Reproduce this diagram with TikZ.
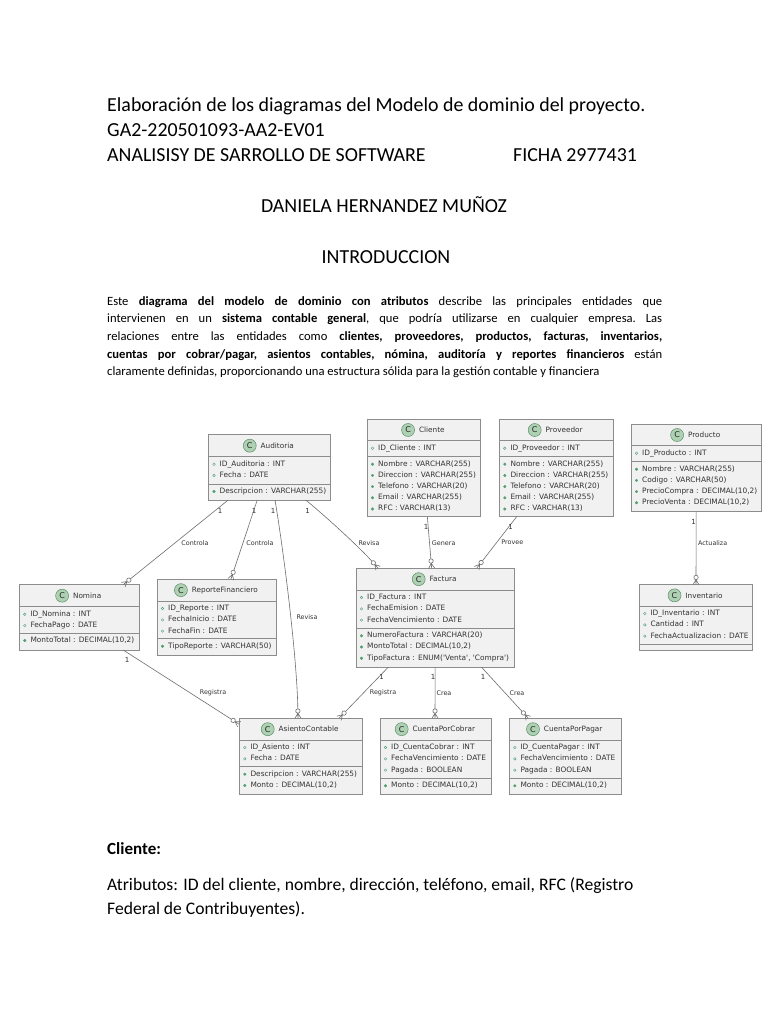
\documentclass[tikz,border=0pt]{standalone}
\usepackage{fontspec}
\setmainfont{Carlito}
\newfontfamily\umlfont{DejaVu Sans}
\usetikzlibrary{arrows.meta,positioning}
\definecolor{BoxFill}{HTML}{F1F1F1}
\definecolor{BoxLine}{HTML}{8C8C8C}
\definecolor{RelLine}{HTML}{6E6E6E}
\definecolor{IconFill}{HTML}{ADD1B2}
\definecolor{IconLine}{HTML}{5F8F6A}
\definecolor{DotGreen}{HTML}{4F9F72}
\definecolor{UmlText}{HTML}{333333}

% crow's foot with a small circle in front of it
\pgfdeclarearrow{
  name=ZeroMany,
  setup code={
    \pgfarrowssettipend{0pt}
    \pgfarrowssetlineend{-9.5pt}
    \pgfarrowssetvisualbackend{-9.5pt}
    \pgfarrowssetbackend{-9.5pt}
    \pgfarrowshullpoint{0pt}{3pt}
    \pgfarrowshullpoint{0pt}{-3pt}
    \pgfarrowshullpoint{-9.5pt}{0pt}
  },
  drawing code={
    \pgfsetdash{}{0pt}
    \pgfpathmoveto{\pgfqpoint{-5pt}{0pt}}
    \pgfpathlineto{\pgfqpoint{0pt}{3pt}}
    \pgfpathmoveto{\pgfqpoint{-5pt}{0pt}}
    \pgfpathlineto{\pgfqpoint{0pt}{-3pt}}
    \pgfpathmoveto{\pgfqpoint{-5pt}{0pt}}
    \pgfpathlineto{\pgfqpoint{0pt}{0pt}}
    \pgfpathcircle{\pgfqpoint{-7.3pt}{0pt}}{2.2pt}
    \pgfusepathqstroke
  },
  parameters={x}
}

\tikzset{
  % class box
  entbox/.style={draw=BoxLine, fill=BoxFill, line width=0.8pt, inner sep=0pt,
                 outer sep=0pt, anchor=north west},
  % separator inside a class box
  entsep/.style={draw=BoxLine, line width=0.8pt},
  enttitle/.style={font=\umlfont\fontsize{7.3}{8}\selectfont, text=UmlText, inner sep=0pt},
  enticon/.style={circle, draw=IconLine, fill=IconFill, line width=0.5pt,
                  minimum size=13pt, inner sep=0pt, text=black!85,
                  font=\umlfont\fontsize{8}{8}\selectfont},
  entrow/.style={font=\umlfont\fontsize{7.4}{8}\selectfont, text=UmlText, anchor=west,
                 inner sep=0pt, text height=5.4pt, text depth=1.5pt},
  keydot/.style={circle, draw=DotGreen, line width=0.4pt, minimum size=2.6pt, inner sep=0pt},
  fielddot/.style={circle, draw=DotGreen, fill=DotGreen, line width=0.4pt,
                   minimum size=2.6pt, inner sep=0pt},
  % relation line and its labels
  rel/.style={draw=RelLine, line width=0.6pt, -{ZeroMany}},
  rellbl/.style={font=\umlfont\fontsize{6.4}{8}\selectfont, text=UmlText, inner sep=0pt},
  card/.style={font=\umlfont\fontsize{7}{8}\selectfont, text=UmlText, inner sep=0pt},
  % page text
  pagetxt/.style={anchor=base west, inner sep=0pt, text=black, font=\fontsize{19.9}{24}\selectfont},
  pagemid/.style={pagetxt, anchor=base},
}

% name, left, right, top, header bottom, separator, bottom, first rows, second rows
\newcommand{\entity}[9]{
  \pgfmathsetmacro{\entW}{#3-#2}
  \pgfmathsetmacro{\entH}{#7-#4}
  \node[entbox, minimum width=\entW pt, minimum height=\entH pt] (#1) at (#2,#4) {};
  \draw[entsep] (#2,#5) -- (#3,#5);
  \draw[entsep] (#2,#6) -- (#3,#6);
  \node[enttitle] (#1T) at ({(#2+#3)/2+8},{(#4+#5)/2}) {#1};
  \node[enticon, left=4pt of #1T] (#1C) {C};
  \foreach \rowtxt [count=\n] in {#8}{
    \node[keydot] at ({#2+5.5},{#5+1.9+(\n-0.5)*11.3}) {};
    \node[entrow] at ({#2+11},{#5+1.9+(\n-0.5)*11.3}) {\rowtxt};
  }
  \foreach \rowtxt [count=\n] in {#9}{
    \node[fielddot] at ({#2+5.5},{#6+1.9+(\n-0.5)*11.2}) {};
    \node[entrow] at ({#2+11},{#6+1.9+(\n-0.5)*11.2}) {\rowtxt};
  }
}

\begin{document}
\begin{tikzpicture}[x=1pt,y=-1pt]
\useasboundingbox (0,0) rectangle (768,1024);
\fill[white] (0,0) rectangle (768,1024);

%% ── Page heading ─────────────────────────────────────────────────────────
\node[pagetxt] (head1) at (107,112) {Elaboración de los diagramas del Modelo de dominio del proyecto.};
\node[pagetxt] (head2) at (107,137) {GA2-220501093-AA2-EV01};
\node[pagetxt] (head3) at (107,162) {ANALISISY DE SARROLLO DE SOFTWARE};
\node[pagetxt] (head4) at (513,162) {FICHA 2977431};
\node[pagemid] (author) at (384,213) {DANIELA HERNANDEZ MUÑOZ};
\node[pagemid] (intro) at (386,263) {INTRODUCCION};

%% ── Paragraph ────────────────────────────────────────────────────────────
\node[anchor=north west, inner sep=0pt, text width=555pt, align=justify,
      font=\frenchspacing\fontsize{12.6}{17.7}\selectfont] (para) at (107,296)
  {Este \textbf{diagrama del modelo de dominio con atributos} describe las principales entidades que\linebreak
   intervienen en un \textbf{sistema contable general}, que podría utilizarse en cualquier empresa. Las\linebreak
   relaciones entre las entidades como \textbf{clientes, proveedores, productos, facturas, inventarios,}\linebreak
   \textbf{cuentas por cobrar/pagar, asientos contables, nómina, auditoría y reportes financieros} están\linebreak
   claramente definidas, proporcionando una estructura sólida para la gestión contable y financiera};

%% ── Classes ──────────────────────────────────────────────────────────────
\entity{Auditoria}{208.5}{330}{434.7}{456.7}{484}{500}
  {ID\_Auditoria : INT,Fecha : DATE}
  {Descripcion : VARCHAR(255)}
\entity{Cliente}{367}{480.7}{419.3}{440.7}{456.7}{516.7}
  {ID\_Cliente : INT}
  {Nombre : VARCHAR(255),Direccion : VARCHAR(255),Telefono : VARCHAR(20),Email : VARCHAR(255),RFC : VARCHAR(13)}
\entity{Proveedor}{499.3}{613}{419.3}{440.7}{456.7}{516.7}
  {ID\_Proveedor : INT}
  {Nombre : VARCHAR(255),Direccion : VARCHAR(255),Telefono : VARCHAR(20),Email : VARCHAR(255),RFC : VARCHAR(13)}
\entity{Producto}{631}{761.3}{424.3}{445.7}{461.7}{511.7}
  {ID\_Producto : INT}
  {Nombre : VARCHAR(255),Codigo : VARCHAR(50),{PrecioCompra : DECIMAL(10,2)},{PrecioVenta : DECIMAL(10,2)}}
\entity{Nomina}{19.3}{139}{584.7}{606.7}{633}{650}
  {ID\_Nomina : INT,FechaPago : DATE}
  {{MontoTotal : DECIMAL(10,2)}}
\entity{ReporteFinanciero}{157}{276.7}{579.3}{601}{638.7}{655.7}
  {ID\_Reporte : INT,FechaInicio : DATE,FechaFin : DATE}
  {TipoReporte : VARCHAR(50)}
\entity{Factura}{356}{514.3}{568.3}{590}{628.3}{667.3}
  {ID\_Factura : INT,FechaEmision : DATE,FechaVencimiento : DATE}
  {NumeroFactura : VARCHAR(20),{MontoTotal : DECIMAL(10,2)},{TipoFactura : ENUM('Venta', 'Compra')}}
\entity{Inventario}{639.3}{752.7}{584.7}{606}{644.3}{650}
  {ID\_Inventario : INT,Cantidad : INT,FechaActualizacion : DATE}
  {}
\entity{AsientoContable}{239.3}{362}{718.3}{740}{766.7}{794}
  {ID\_Asiento : INT,Fecha : DATE}
  {Descripcion : VARCHAR(255),{Monto : DECIMAL(10,2)}}
\entity{CuentaPorCobrar}{380}{491.7}{718.3}{740}{778.3}{794}
  {ID\_CuentaCobrar : INT,FechaVencimiento : DATE,Pagada : BOOLEAN}
  {{Monto : DECIMAL(10,2)}}
\entity{CuentaPorPagar}{509.3}{621}{718.3}{740}{778.3}{794}
  {ID\_CuentaPagar : INT,FechaVencimiento : DATE,Pagada : BOOLEAN}
  {{Monto : DECIMAL(10,2)}}

%% ── Relations ────────────────────────────────────────────────────────────
\draw[rel] ([xshift=-41pt]Auditoria.south) -- ([xshift=44pt]Nomina.north);
\draw[rel] ([xshift=-12pt]Auditoria.south) -- ([xshift=14pt]ReporteFinanciero.north);
\draw[rel] ([xshift=5.75pt]Auditoria.south) .. controls (285,560) and (297,660) .. ([xshift=-2.65pt]AsientoContable.north);
\draw[rel] ([xshift=36.5pt]Auditoria.south) .. controls (330,520) and (362,550) .. ([xshift=-57pt]Factura.north);
\draw[rel] ([xshift=3.5pt]Cliente.south) -- ([xshift=-3.5pt]Factura.north);
\draw[rel] ([xshift=-39.5pt]Proveedor.south) -- ([xshift=41.5pt]Factura.north);
\draw[rel] (Producto.south) -- (Inventario.north);
\draw[rel] ([xshift=44pt]Nomina.south) -- ([yshift=-6pt]AsientoContable.north west);
\draw[rel] ([xshift=-47pt]Factura.south) -- ([xshift=38.35pt]AsientoContable.north);
\draw[rel] (Factura.south) -- ([xshift=-0.85pt]CuentaPorCobrar.north);
\draw[rel] ([xshift=46.5pt]Factura.south) -- ([xshift=-36.85pt]CuentaPorPagar.north);

%% ── Relation labels ──────────────────────────────────────────────────────
\node[rellbl] at (195,542.7) {Controla};
\node[rellbl] at (260,542.7) {Controla};
\node[rellbl] at (307,617) {Revisa};
\node[rellbl] at (369,542.7) {Revisa};
\node[rellbl] at (443.7,542.7) {Genera};
\node[rellbl] at (512.3,542.7) {Provee};
\node[rellbl] at (712.7,542.7) {Actualiza};
\node[rellbl] at (213,692.7) {Registra};
\node[rellbl] at (383,692.7) {Registra};
\node[rellbl] at (444,692.7) {Crea};
\node[rellbl] at (517,692.7) {Crea};

%% ── Cardinalities ────────────────────────────────────────────────────────
\foreach \cx/\cy in {220/510.7,254/510.7,273/510.7,307.7/510.7,426/527,510.7/527,693.7/522,
                     127/660,381.7/677,433/677,483/677}{
  \node[card] at (\cx,\cy) {1};
}

%% ── Text under the diagram ───────────────────────────────────────────────
\node[pagetxt, font=\bfseries\fontsize{17}{20}\selectfont] (cliente) at (107,854) {Cliente:};
\node[pagetxt, font=\fontsize{17.6}{20}\selectfont] (attr1) at (107,890)
  {Atributos: ID del cliente, nombre, dirección, teléfono, email, RFC (Registro};
\node[pagetxt, font=\fontsize{17.6}{20}\selectfont] (attr2) at (107,914)
  {Federal de Contribuyentes).};

\end{tikzpicture}
\end{document}
